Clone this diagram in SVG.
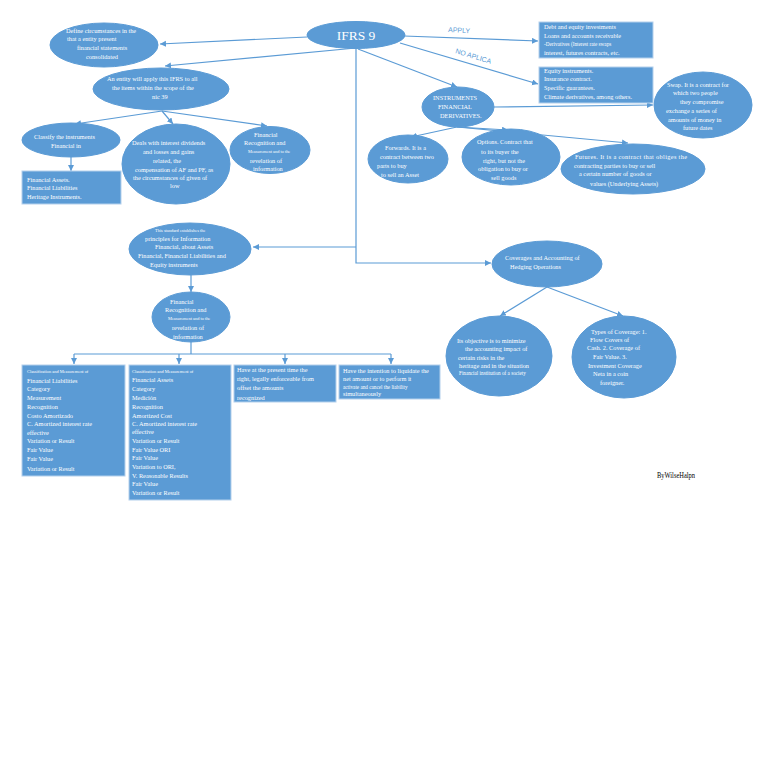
<svg xmlns="http://www.w3.org/2000/svg" width="768" height="762" viewBox="0 0 768 762">
<style>
.e{fill:#5b9bd5;stroke:#5b9bd5;stroke-width:1}
.b{fill:#5b9bd5;stroke:#b4d0ec;stroke-width:1}
.c{fill:none;stroke:#5b9bd5;stroke-width:1.2}
.t{font-family:"Liberation Serif",serif;font-size:6.3px;fill:#ffffff}
.s{font-size:4.4px}
.m{font-size:5.2px}
.l{font-family:"Liberation Sans",sans-serif;font-size:7px;fill:#5b9bd5}
</style>
<defs>
<marker id="a" markerUnits="userSpaceOnUse" markerWidth="7" markerHeight="7" refX="6" refY="3" orient="auto">
<path d="M0,0 L6,3 L0,6 z" fill="#5b9bd5"/>
</marker>
</defs>
<rect width="768" height="762" fill="#ffffff"/>
<g id="connectors">
<path class="c" d="M307,37 L160,44" marker-end="url(#a)"/>
<path class="c" d="M356,48 L165,66" marker-end="url(#a)"/>
<path class="c" d="M404,36 L538,41" marker-end="url(#a)"/>
<path class="c" d="M400,43 L538,84" marker-end="url(#a)"/>
<path class="c" d="M358,49 L457,87" marker-end="url(#a)"/>
<path class="c" d="M356,48 L356,263 L491,263" marker-end="url(#a)"/>
<path class="c" d="M356,247 L253,247" marker-end="url(#a)"/>
<path class="c" d="M494,107 L653,105" marker-end="url(#a)"/>
<path class="c" d="M457,127 L411,137" marker-end="url(#a)"/>
<path class="c" d="M457,127 L508,130" marker-end="url(#a)"/>
<path class="c" d="M457,127 L628,143" marker-end="url(#a)"/>
<path class="c" d="M162,111 L75,124" marker-end="url(#a)"/>
<path class="c" d="M162,111 L173,124" marker-end="url(#a)"/>
<path class="c" d="M162,111 L267,126" marker-end="url(#a)"/>
<path class="c" d="M71,157 L71,171" marker-end="url(#a)"/>
<path class="c" d="M191,275 L191,292" marker-end="url(#a)"/>
<path class="c" d="M191,342 L191,354 M74,354 L391,354"/>
<path class="c" d="M74,354 L74,364" marker-end="url(#a)"/>
<path class="c" d="M179,354 L179,364" marker-end="url(#a)"/>
<path class="c" d="M285,354 L285,364" marker-end="url(#a)"/>
<path class="c" d="M391,354 L391,364" marker-end="url(#a)"/>
<path class="c" d="M547,287 L500,316" marker-end="url(#a)"/>
<path class="c" d="M547,287 L623,316" marker-end="url(#a)"/>
<text class="l" x="448" y="32" transform="rotate(3 448 32)">APPLY</text>
<text class="l" x="455" y="53" transform="rotate(17 455 53)">NO APLICA</text>
</g>
<g id="ifrs9">
<ellipse class="e" cx="356" cy="35" rx="49" ry="13.5"/>
<text class="t" x="356" y="40" text-anchor="middle" style="font-size:13.5px">IFRS 9</text>
</g>
<g id="define">
<ellipse class="e" cx="104" cy="45" rx="54" ry="22"/>
<text class="t" x="66" y="33">Define circumstances in the</text>
<text class="t" x="67" y="41">that a entity present</text>
<text class="t" x="77" y="50">financial statements</text>
<text class="t" x="86" y="59">consolidated</text>
</g>
<g id="entity">
<ellipse class="e" cx="161" cy="89" rx="68" ry="21"/>
<text class="t" x="107" y="81">An entity will apply this IFRS to all</text>
<text class="t" x="112" y="90">the items within the scope of the</text>
<text class="t" x="152" y="99">nic 39</text>
</g>
<g id="apply">
<rect class="b" x="539" y="22" width="114" height="36"/>
<text class="t" x="544" y="29">Debt and equity investments</text>
<text class="t" x="544" y="38">Loans and accounts receivable</text>
<text class="t m" x="544" y="46">-Derivatives (Interest rate swaps</text>
<text class="t" x="544" y="55">interest, futures contracts, etc.</text>
</g>
<g id="noaplica">
<rect class="b" x="539" y="67" width="114" height="36"/>
<text class="t" x="544" y="73">Equity instruments.</text>
<text class="t" x="544" y="81">Insurance contract.</text>
<text class="t" x="544" y="90">Specific guarantees.</text>
<text class="t" x="544" y="99">Climate derivatives, among others.</text>
</g>
<g id="swap">
<ellipse class="e" cx="703" cy="105" rx="49" ry="33"/>
<text class="t" x="667" y="87">Swap. It is a contract for</text>
<text class="t" x="673" y="95">which two people</text>
<text class="t" x="680" y="104">they compromise</text>
<text class="t" x="666" y="113">exchange a series of</text>
<text class="t" x="668" y="122">amounts of money in</text>
<text class="t" x="683" y="130">future dates</text>
</g>
<g id="instruments">
<ellipse class="e" cx="458" cy="107" rx="36" ry="20"/>
<text class="t" x="433" y="100">INSTRUMENTS</text>
<text class="t" x="438" y="109">FINANCIAL</text>
<text class="t" x="440" y="118">DERIVATIVES.</text>
</g>
<g id="forwards">
<ellipse class="e" cx="408" cy="159" rx="40" ry="24"/>
<text class="t" x="385" y="150">Forwards. It is a</text>
<text class="t" x="380" y="159">contract between two</text>
<text class="t" x="377" y="168">parts to buy</text>
<text class="t" x="381" y="177">to sell an Asset</text>
</g>
<g id="options">
<ellipse class="e" cx="511" cy="157" rx="49" ry="28"/>
<text class="t" x="477" y="144">Options. Contract that</text>
<text class="t" x="481" y="154">to its buyer the</text>
<text class="t" x="483" y="163">right, but not the</text>
<text class="t" x="478" y="171">obligation to buy or</text>
<text class="t" x="491" y="180">sell goods</text>
</g>
<g id="futures">
<ellipse class="e" cx="633" cy="169" rx="72" ry="25"/>
<text class="t" x="575" y="159" textLength="112" lengthAdjust="spacing">Futures. It is a contract that obliges the</text>
<text class="t" x="574" y="168">contracting parties to buy or sell</text>
<text class="t" x="579" y="176">a certain number of goods or</text>
<text class="t" x="590" y="186">values (Underlying Assets)</text>
</g>
<g id="classify">
<ellipse class="e" cx="71" cy="140" rx="49" ry="17"/>
<text class="t" x="34" y="139">Classify the instruments</text>
<text class="t" x="51" y="148">Financial in</text>
</g>
<g id="classes">
<rect class="b" x="22" y="171" width="99" height="33"/>
<text class="t" x="27" y="182">Financial Assets.</text>
<text class="t" x="27" y="190">Financial Liabilities</text>
<text class="t" x="27" y="199">Heritage Instruments.</text>
</g>
<g id="deals">
<ellipse class="e" cx="176" cy="164" rx="54" ry="40"/>
<text class="t" x="132" y="145">Deals with interest dividends</text>
<text class="t" x="143" y="154">and losses and gains</text>
<text class="t" x="153" y="163">related, the</text>
<text class="t" x="135" y="172">compensation of AF and PF, as</text>
<text class="t" x="133" y="180">the circumstances of given of</text>
<text class="t" x="170" y="188">low</text>
</g>
<g id="recognition1">
<ellipse class="e" cx="270" cy="150" rx="40" ry="23.5"/>
<text class="t" x="254" y="137">Financial</text>
<text class="t" x="244" y="145">Recognition and</text>
<text class="t s" x="248" y="153">Measurement and to the</text>
<text class="t" x="250" y="162.5">revelation of</text>
<text class="t" x="253" y="171">information</text>
</g>
<g id="standard">
<ellipse class="e" cx="190" cy="249" rx="61" ry="26"/>
<text class="t s" x="155" y="231.5">This standard establishes the</text>
<text class="t" x="145" y="241">principles for Information</text>
<text class="t" x="155" y="249">Financial, about Assets</text>
<text class="t" x="138" y="258">Financial, Financial Liabilities and</text>
<text class="t" x="150" y="267">Equity instruments</text>
</g>
<g id="recognition2">
<ellipse class="e" cx="191" cy="317" rx="39" ry="25"/>
<text class="t" x="170" y="304">Financial</text>
<text class="t" x="165" y="312">Recognition and</text>
<text class="t s" x="168" y="319.5">Measurement and to the</text>
<text class="t" x="172" y="330">revelation of</text>
<text class="t" x="173" y="339">information</text>
</g>
<g id="liabilities">
<rect class="b" x="22" y="365" width="103" height="111"/>
<text class="t s" x="27" y="372.5">Classification and Measurement of</text>
<text class="t" x="27" y="383">Financial Liabilities</text>
<text class="t" x="27" y="391">Category</text>
<text class="t" x="27" y="400">Measurement</text>
<text class="t" x="27" y="409">Recognition</text>
<text class="t" x="27" y="418">Costo Amortizado</text>
<text class="t" x="27" y="426">C. Amortized interest rate</text>
<text class="t" x="27" y="435">effective</text>
<text class="t" x="27" y="443">Variation or Result</text>
<text class="t" x="27" y="452">Fair Value</text>
<text class="t" x="27" y="461">Fair Value</text>
<text class="t" x="27" y="471">Variation or Result</text>
</g>
<g id="assets">
<rect class="b" x="129" y="365" width="102" height="135"/>
<text class="t s" x="132" y="372.5">Classification and Measurement of</text>
<text class="t" x="132" y="382">Financial Assets</text>
<text class="t" x="132" y="391">Category</text>
<text class="t" x="132" y="400">Medición</text>
<text class="t" x="132" y="409">Recognition</text>
<text class="t" x="132" y="418">Amortized Cost</text>
<text class="t" x="132" y="426">C. Amortized interest rate</text>
<text class="t" x="132" y="434">effective</text>
<text class="t" x="132" y="443">Variation or Result</text>
<text class="t" x="132" y="452">Fair Value ORI</text>
<text class="t" x="132" y="460">Fair Value</text>
<text class="t" x="132" y="469">Variation to ORI,</text>
<text class="t" x="132" y="478">V. Reasonable Results</text>
<text class="t" x="132" y="486">Fair Value</text>
<text class="t" x="132" y="495">Variation or Result</text>
</g>
<g id="offset">
<rect class="b" x="234" y="365" width="102" height="37"/>
<text class="t" x="237" y="372">Have at the present time the</text>
<text class="t" x="237" y="381">right, legally enforceable from</text>
<text class="t" x="237" y="390">offset the amounts</text>
<text class="t" x="237" y="399.5">recognized</text>
</g>
<g id="intention">
<rect class="b" x="339" y="365" width="101" height="34"/>
<text class="t" x="343" y="373">Have the intention to liquidate the</text>
<text class="t" x="343" y="381">net amount or to perform it</text>
<text class="t m" x="343" y="388.5">activate and cancel the liability</text>
<text class="t" x="343" y="396">simultaneously</text>
</g>
<g id="coverages">
<ellipse class="e" cx="547" cy="264" rx="55" ry="23"/>
<text class="t" x="505" y="260">Coverages and Accounting of</text>
<text class="t" x="510" y="269">Hedging Operations</text>
</g>
<g id="objective">
<ellipse class="e" cx="499" cy="356" rx="53" ry="40"/>
<text class="t" x="457" y="343">Its objective is to minimize</text>
<text class="t" x="465" y="351">the accounting impact of</text>
<text class="t" x="458" y="360">certain risks in the</text>
<text class="t" x="459" y="368">heritage and in the situation</text>
<text class="t m" x="459" y="375">Financial institution of a society</text>
</g>
<g id="types">
<ellipse class="e" cx="624" cy="357" rx="52" ry="41"/>
<text class="t" x="591" y="334">Types of Coverage: 1.</text>
<text class="t" x="590" y="342">Flow Covers of</text>
<text class="t" x="587" y="350">Cash. 2. Coverage of</text>
<text class="t" x="593" y="359">Fair Value. 3.</text>
<text class="t" x="588" y="368">Investment Coverage</text>
<text class="t" x="593" y="376">Neta in a coin</text>
<text class="t" x="600" y="385">foreigner.</text>
</g>
<g id="signature">
<text x="657" y="478" textLength="38" lengthAdjust="spacingAndGlyphs" style="font-family:'Liberation Serif',serif;font-size:8px;fill:#000000">ByWilseHalpn</text>
</g>
</svg>
